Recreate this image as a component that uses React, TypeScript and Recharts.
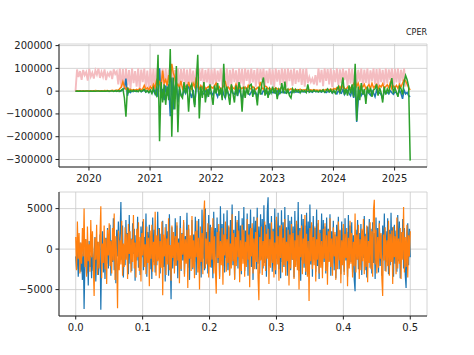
import { LineChart, Line, XAxis, YAxis, CartesianGrid } from "recharts";

// top panel: one sample every 0.025 year starting at T0
const T0 = 2019.78;
const DT = 0.025;
const yearTicks = [2020, 2021, 2022, 2023, 2024, 2025];
const topTicks = [-300000, -200000, -100000, 0, 100000, 200000];

const pink = [
  0, 95000, 62000, 88000, 50000, 93000, 70000, 84000, 46000, 98000,
  64000, 81000, 55000, 91000, 72000, 100000, 58000, 84000, 63000, 95000,
  49000, 79000, 67000, 89000, 53000, 96000, 75000, 86000, 30000, 100000,
  15000, 97000, 8000, 100000, 25000, 92000, 12000, 100000, 35000, 88000,
  20000, 100000, 10000, 95000, 40000, 100000, 18000, 90000, 5000, 100000,
  22000, 98000, 8000, 100000, 30000, 94000, 12000, 100000, 26000, 100000,
  15000, 96000, 35000, 100000, 10000, 92000, 28000, 100000, 18000, 97000,
  40000, 100000, 20000, 95000, 12000, 100000, 33000, 90000, 16000, 100000,
  25000, 98000, 45000, 100000, 20000, 93000, 38000, 100000, 14000, 96000,
  30000, 100000, 22000, 90000, 42000, 100000, 18000, 97000, 35000, 100000,
  12000, 94000, 28000, 100000, 40000, 91000, 20000, 100000, 33000, 98000,
  15000, 100000, 45000, 95000, 25000, 100000, 38000, 92000, 20000, 100000,
  30000, 97000, 48000, 100000, 22000, 90000, 35000, 100000, 28000, 96000,
  18000, 100000, 42000, 93000, 26000, 100000, 36000, 98000, 20000, 100000,
  44000, 95000, 24000, 100000, 32000, 91000, 40000, 100000, 27000, 97000,
  20000, 100000, 35000, 62000, 40000, 55000, 30000, 70000, 25000, 100000,
  38000, 94000, 22000, 100000, 45000, 97000, 30000, 100000, 18000, 92000,
  40000, 100000, 26000, 96000, 35000, 100000, 48000, 90000, 22000, 100000,
  33000, 98000, 15000, 100000, 28000, 94000, 42000, 100000, 20000, 95000,
  36000, 100000, 24000, 91000, 45000, 100000, 30000, 97000, 18000, 100000,
  40000, 93000, 26000, 100000, 34000, 96000, 50000, 100000, 22000, 98000,
  38000, 100000, 28000, 94000, 45000, 100000, 20000, null, null, null,
];

const blueTop = [
  0, 500, -300, 800, -600, 400, 1000, -500, 300, 700,
  -400, 900, 200, -700, 600, 1200, -300, 800, 1500, -200,
  1000, 400, -900, 1300, 2000, -500, 800, 1700, -1200, 3000,
  1000, 6000, 12000, 55000, -20000, 8000, -5000, 3000, -2000, 4000,
  -1500, 2500, 6000, -3000, 1000, 5000, -4000, 2000, -6000, 3000,
  -8000, 4000, -12000, 20000, -25000, 100000, -30000, 10000, -40000, 25000,
  -20000, 30000, -110000, 60000, -80000, 15000, 40000, -50000, 10000, -15000,
  -20000, 5000, -10000, 12000, 20000, -8000, -30000, 6000, -60000, 20000,
  30000, -40000, 5000, -15000, -10000, 8000, -20000, 4000, -12000, -5000,
  -18000, 6000, -8000, -25000, 3000, -10000, 10000, -15000, -30000, 5000,
  -12000, -20000, 4000, -8000, -14000, 2000, -22000, 8000, -10000, -35000,
  -6000, -12000, 3000, -9000, -16000, -4000, 5000, -11000, -7000, -25000,
  2000, -8000, -13000, 4000, -6000, -10000, -3000, -12000, 1000, -7000,
  -5000, -9000, 2000, -14000, -4000, -6000, 3000, -8000, -5000, -2000,
  -10000, -3000, -6000, 1000, -4000, -2000, -5000, 500, -3000, -1500,
  -4000, -2500, 0, -3500, -1000, -5000, 1000, -2000, -3000, -500,
  -1500, -4000, 800, -2500, -6000, -1000, -3000, 1500, -8000, -2000,
  -5000, -12000, 2000, -6000, -9000, 8000, -15000, -4000, 3000, -10000,
  -20000, 5000, -30000, 25000, -135000, -40000, 10000, -20000, -8000, -15000,
  -30000, 5000, -10000, -18000, 2000, -8000, -25000, 4000, -12000, -6000,
  -15000, -35000, 3000, -9000, -5000, -12000, 2000, -7000, -14000, -3000,
  -8000, -16000, 4000, -10000, -34000, 5000, -12000, -6000, -20000, -25000,
];

const orangeTop = [
  0, 800, 1500, 500, 1200, 2000, 700, 1600, 900, 2200,
  1000, 1800, 600, 2500, 1300, 900, 2000, 1500, 800, 2400,
  1400, 3000, 900, 2200, 4000, 1500, 3500, 5000, 2000, 12000,
  18000, 42000, 20000, 8000, 15000, 5000, 9000, 4000, 7000, 3000,
  8000, 5000, 12000, 6000, 10000, 25000, 8000, 15000, 5000, 20000,
  10000, 30000, 15000, 45000, 25000, 40000, 20000, 90000, 35000, 50000,
  25000, 70000, 40000, 120000, 80000, 60000, 20000, 30000, 15000, 45000,
  10000, 25000, 20000, 12000, 40000, 15000, 8000, 35000, 18000, 60000,
  20000, 10000, 25000, 12000, 30000, 8000, 15000, 20000, 10000, 18000,
  12000, 25000, 35000, 10000, 20000, 8000, 15000, 22000, 45000, 12000,
  18000, 8000, 25000, 14000, 10000, 30000, 12000, 20000, 8000, 15000,
  10000, 18000, 6000, 25000, 12000, 9000, 20000, 14000, 7000, 16000,
  12000, 40000, 15000, 8000, 22000, 20000, 10000, 14000, 6000, 12000,
  8000, 15000, 10000, 5000, 12000, 18000, 7000, 10000, 4000, 9000,
  6000, 11000, 5000, 8000, 3000, 7000, 4000, 9000, 3000, 6000,
  4000, 8000, 3000, 5000, 6000, 3000, 7000, 4000, 5000, 3000,
  5000, 2000, 6000, 4000, 8000, 3000, 6000, 10000, 5000, 12000,
  8000, 15000, 6000, 20000, 10000, 25000, 12000, 8000, 18000, 10000,
  15000, 22000, 30000, 45000, 20000, 35000, 12000, 25000, 18000, 30000,
  10000, 20000, 28000, 12000, 35000, 15000, 22000, 30000, 10000, 25000,
  18000, 32000, 12000, 20000, 28000, 15000, 38000, 10000, 22000, 16000,
  25000, 12000, 30000, 18000, 35000, 50000, 45000, 30000, 15000, 5000,
];

const greenTop = [
  0, 300, -500, 600, -200, 400, -800, 300, 700, -400,
  500, -300, 900, -600, 200, 800, -500, 1000, -300, 600,
  -400, 1200, -800, 500, 1500, -1000, 2000, -1500, 3000, -2000,
  5000, 10000, -30000, -112000, 15000, -5000, 3000, -2000, 4000, -1000,
  2000, -3000, 5000, -1500, 3000, 8000, -4000, 2000, -6000, 5000,
  -10000, 15000, -8000, -20000, 160000, -220000, 40000, -50000, 30000, -60000,
  20000, -40000, 185000, -200000, 60000, -80000, 110000, -180000, 20000, -20000,
  -30000, 40000, -10000, 30000, -90000, 15000, 30000, -20000, -70000, 40000,
  160000, -120000, 20000, -30000, 40000, -50000, 10000, -25000, 30000, -15000,
  -60000, 25000, -10000, 35000, -20000, 15000, -40000, 120000, -30000, 20000,
  -15000, -60000, 30000, -10000, -50000, 25000, -20000, 40000, 10000, -90000,
  20000, -30000, 15000, -15000, 25000, 30000, -25000, 10000, -10000, -63000,
  20000, -15000, 35000, 60000, -20000, 15000, -30000, 10000, -8000, 20000,
  -10000, 15000, -35000, 8000, -5000, 35000, -10000, 42000, -12000, 6000,
  -20000, -30000, 10000, -5000, 8000, -3000, 5000, -8000, 4000, -2000,
  3000, -6000, 30000, -4000, 2000, -3000, 5000, -2000, 1000, -4000,
  3000, -2000, 6000, -5000, 2000, 10000, -3000, 6000, -8000, 4000,
  -10000, 8000, 20000, -6000, 15000, 60000, -15000, 10000, -20000, 25000,
  -10000, 30000, -25000, 120000, -130000, 20000, -40000, 35000, -15000, 10000,
  -56000, 20000, -10000, 15000, -25000, 5000, 10000, 30000, -20000, 15000,
  -8000, -50000, 20000, -15000, 10000, -5000, 25000, 57000, -10000, 15000,
  -5000, -25000, 20000, 10000, -15000, 40000, 69000, 50000, 20000, -305000,
];

// bottom panel: frequencies 0 .. 0.5, step 0.00125
const DF = 0.00125;
const freqTicks = [0, 0.1, 0.2, 0.3, 0.4, 0.5];
const bottomTicks = [-5000, 0, 5000];

const blueBottom = [
  -900, -2500, 500, -3400, -1200, 800, -2800, -600, -3800, 400, -7400, -1500, 1200, -3000, -400, -4500, 1000, -2200, -800, -3600,
  300, -2700, -1000, 1500, -4000, -600, 900, -3200, -1400, 1800, -7500, -500, 2200, -2900, 600, -3700, 1400, -1800, 2600, -2400,
  -300, 3000, -3300, 1100, -1600, 3800, -2600, 700, -4200, 2400, -900, 3400, -2100, 1600, 5800, -1300, 2900, -3500, 500, -2000,
  3600, -1100, 2000, -3100, 4200, -1800, 1300, -2700, 3200, -600, 2500, -3900, 1700, -1400, 4000, -2300, 900, -3200, 2800, -1000,
  3400, -2600, 1500, -1200, 4400, -3400, 2100, -800, 3000, -2500, 1200, -3700, 3900, -1600, 2400, -2900, 800, -2000, 4600, -1300,
  2600, -3000, 1900, -1700, 3500, -2200, 1000, -4000, 3100, -1100, 2200, -3300, 4300, -900, -6200, 2700, -2400, 1400, -1500, 3800,
  -2000, 2900, -3600, 1300, -1000, 4100, -2700, 2000, -1400, 3300, -3100, 1600, -700, 4500, -2300, 2500, -3800, 1100, -1200, 3600,
  -2500, 1800, -1600, 4000, -3200, 2300, -900, 3700, -2100, 1400, -3500, 4900, -1200, 2800, -2600, 5000, -1800, 2100, -3000, 4200,
  -1400, 3000, -2300, 1700, -3600, 4600, -1000, 2600, -2800, 3900, -1700, 2200, -3400, 5300, -1300, 3100, -2100, 4400, -2900, 1900,
  -1100, 4800, -2600, 2700, -3200, 3600, -700, 5500, -2000, 2400, -3700, 4100, -1500, 3300, -2400, 4700, -1900, 2900, -3100, 3800,
  -1200, 5200, -2700, 2300, -1600, 4400, -3300, 3100, -900, 4900, -2200, 2600, -3800, 4000, -1400, 3500, -2500, 5100, -1800, 2800,
  -3000, 4300, -1300, 3700, -2400, 5400, -1700, 3000, -3400, 4600, 6400, -2100, 3200, -1500, 4100, -2800, 2500, -1900, 5000, -3100,
  3600, -1200, 4500, -2500, 2900, -3600, 4800, -1600, 3300, -2200, 5200, -1000, 2700, -3300, 4200, -1800, 3500, -2600, 4000, -1300,
  2800, -3500, 4700, -2000, 3100, -1500, 5800, -2700, 2600, -3900, 4300, -1400, 3700, -2300, 2900, -3200, 4500, -1700, 3400, -2500,
  5500, -1900, 3000, -3400, 4100, -1100, 2600, -2800, 4900, -2100, 3200, -3700, 2400, -1300, 4400, -2400, 3600, -1600, 2800, -3000,
  3900, -2200, 2500, -1500, 4300, -3300, 2200, -1800, 3500, -2600, 1800, -3600, 3000, -1200, 4000, -2500, 2300, -3100, 3400, -1700,
  2600, -2800, 3800, -1400, 2100, -3400, 4200, -2000, 2900, -1600, 3300, -2900, 1700, -3800, -5200, 2400, -1300, 3600, -2500, 2000,
  -1800, 3100, -3200, 2300, -1100, 4100, -2600, 1900, -3500, 2800, -1500, 3700, -2300, 2500, -3000, 3300, -1700, 2000, -3700, 3900,
  -1400, 2600, -2900, 3500, -2100, 1800, -3300, 2900, -1200, 4400, -2700, 2200, -1600, 3800, -3100, 2400, -2000, 4500, -1300, 2700,
  -3400, 3000, -1800, 2300, -2800, 4200, -1500, 3400, -3600, 2100, -1100, 3700, -2400, 2600, -3200, -4800, 1900, 3200, -2000, 2500,
  -1000,
];

const orangeBottom = [
  1500, -2600, 3400, -1200, 2000, -3000, 800, -1800, 2600, -900, 5000, -2200, 1200, -3400, 2800, -1500, 600, -2800, 3600, -1000,
  2200, -2000, -5800, 1400, -1300, 3000, -3200, 900, -2400, 1800, 5300, -3600, 700, -1700, 2900, -2500, 1300, -4300, 2400, -800,
  3200, -2100, 1000, -3000, 2600, -1400, 4400, -3800, 1600, -1100, -7300, 2300, -2600, 1100, -1900, 3500, -3300, 700, -2200, 2700,
  -1300, 1900, -3700, 3100, -600, 2200, -2900, 1200, -1600, 4200, -2400, 800, -3500, 2500, -1000, 3300, -2700, 1500, -4000, 2000,
  -800, 3700, -2200, 600, -3100, 2800, -1700, 1400, -4600, 2300, -1200, 3000, -2800, 900, -2000, 4600, -3300, 1700, -1500, 2500,
  -3600, 1000, -2300, 3400, -5700, 1800, -900, 2700, -3200, 1300, -1900, 3800, -2600, 500, -3900, 2900, -1100, 2100, -3000, 1600,
  -2100, 3300, -1400, 800, -4200, 2600, -2500, 1900, -700, 3600, -3400, 1200, -1800, 2400, -4800, 3000, -1200, 1700, -2700, 4100,
  -2300, 1100, -3600, 2200, -1000, 3500, -2900, 1400, -5000, 2800, -1600, 2000, -3100, 4000, 6000, -2400, 1300, -1900, 3200, -3500,
  900, -2200, 2700, -1300, 3800, -3000, 1600, -2600, -5500, 2100, -1100, 3100, -3700, 1000, -2000, 2600, -4400, 1800, -800, 3400,
  -2800, 1200, -1700, 2900, -3300, 700, -2400, 4300, -1500, 2000, -3800, 1500, -2100, 3600, -1000, 2300, -4100, 1100, -2700, 3000,
  -1800, 2400, -3400, 900, -2200, 3700, -1300, 1800, -4700, 2600, -900, 3200, -3000, 1300, -2500, 2100, -1600, 3900, -3600, -6300,
  1500, -1400, 2800, -3200, 1000, -2100, 3400, -2700, 1900, -1200, 2500, -4300, 1200, -2300, 3300, -1700, 2200, -3500, 800, -2600,
  4000, -1900, 1600, -3900, 2700, -1100, 3000, -2900, 1400, -2000, 3700, -3300, 900, -1500, 2400, -4500, 1800, -2400, 3100, -1300,
  2000, -3700, 1100, -2200, 3500, -2600, 1700, -5000, 2300, -1000, 2900, -3100, 1300, -1800, 4200, -2800, 1900, -3400, 1000, -6400,
  2600, -1500, 3300, -2500, 1500, -2000, 2800, -4000, 1200, -1300, 3600, -3000, 2000, -2300, 1000, -3600, 2500, -1200, 3200, -2700,
  1700, -4400, 2200, -1600, 3800, -2200, 1300, -3300, 2700, -900, 2100, -3800, 1600, -2500, 3400, -1400, 2400, -4200, 1100, -2000,
  3100, -3200, 1900, -1100, 2600, -4600, 1400, -2400, 3500, -1800, 2000, -3500, 900, -2100, 4400, -2900, 1800, -1300, 3000, -3700,
  1200, -2600, 2500, -1500, 3700, -3100, 1600, -2200, 2900, -4100, 1000, -1700, 3300, -2500, 2200, -3400, 4800, 6100, -1900, 2400,
  -3000, 1500, -2300, 3200, -1200, 2000, -3600, -5800, 1800, -1400, 2700, -2800, 1100, -2100, 3500, -3300, 1900, -1600, 2300, -4300,
  2800, -1000, 1600, -3100, 3900, -2400, 1300, -1800, 2600, -3700, 2100, -1300, 5200, -2900, 1500, -2200, 3000, -3500, 1700, -900,
  2200,
];

const topData = Array.from({ length: 220 }, (_, i) => ({
  t: T0 + DT * i,
  pink: pink[i],
  blue: blueTop[i],
  orange: orangeTop[i],
  green: greenTop[i],
}));

const bottomData = blueBottom.map((b, i) => ({
  f: DF * i,
  blue: b,
  orange: orangeBottom[i],
}));

const font = { fontFamily: "DejaVu Sans", fontSize: 10, fill: "#222" };
const dark = { stroke: "#222", strokeWidth: 1 };
const minus = (v: number) => (v < 0 ? `\u2212${Math.abs(v)}` : `${v}`);

function TopPanel() {
  const xDom: [number, number] = [2019.51, 2025.53];
  const yDom: [number, number] = [-333000, 207000];
  return (
    <LineChart width={474} height={190} data={topData} margin={{ top: 44, right: 47, bottom: 0, left: 0 }}>
      <CartesianGrid stroke="#c9c9c9" strokeWidth={0.8} />
      <XAxis dataKey="t" type="number" domain={xDom} ticks={yearTicks} interval={0} allowDataOverflow
        height={23} tick={font} tickLine={dark} axisLine={dark} tickSize={3.5} tickMargin={4} />
      <XAxis xAxisId="top" orientation="top" dataKey="t" type="number" domain={xDom} allowDataOverflow
        height={0} tick={false} tickLine={false} axisLine={dark} />
      <YAxis type="number" domain={yDom} ticks={topTicks} interval={0} allowDataOverflow width={59}
        tick={font} tickLine={dark} axisLine={dark} tickSize={3.5} tickMargin={3} tickFormatter={minus} />
      <YAxis yAxisId="right" orientation="right" type="number" domain={yDom} allowDataOverflow
        width={0} tick={false} tickLine={false} axisLine={dark} />
      <Line dataKey="pink" stroke="#f4bcc0" strokeWidth={1.9} dot={false} isAnimationActive={false} />
      <Line dataKey="blue" stroke="#1f77b4" strokeWidth={1.5} dot={false} isAnimationActive={false} />
      <Line dataKey="orange" stroke="#ff7f0e" strokeWidth={1.5} dot={false} isAnimationActive={false} />
      <Line dataKey="green" stroke="#2ca02c" strokeWidth={1.5} dot={false} isAnimationActive={false} />
    </LineChart>
  );
}

function BottomPanel() {
  const xDom: [number, number] = [-0.025, 0.525];
  const yDom: [number, number] = [-8260, 7050];
  return (
    <LineChart width={474} height={160} data={bottomData} margin={{ top: 12, right: 47, bottom: 0, left: 0 }}>
      <CartesianGrid stroke="#c9c9c9" strokeWidth={0.8} />
      <XAxis dataKey="f" type="number" domain={xDom} ticks={freqTicks} interval={0} allowDataOverflow
        height={24} tick={font} tickLine={dark} axisLine={dark} tickSize={3.5} tickMargin={4}
        tickFormatter={(v: number) => v.toFixed(1)} />
      <XAxis xAxisId="top" orientation="top" dataKey="f" type="number" domain={xDom} allowDataOverflow
        height={0} tick={false} tickLine={false} axisLine={dark} />
      <YAxis type="number" domain={yDom} ticks={bottomTicks} interval={0} allowDataOverflow width={59}
        tick={font} tickLine={dark} axisLine={dark} tickSize={3.5} tickMargin={3} tickFormatter={minus} />
      <YAxis yAxisId="right" orientation="right" type="number" domain={yDom} allowDataOverflow
        width={0} tick={false} tickLine={false} axisLine={dark} />
      <Line dataKey="blue" stroke="#1f77b4" strokeWidth={1.2} dot={false} isAnimationActive={false} />
      <Line dataKey="orange" stroke="#ff7f0e" strokeWidth={1.2} dot={false} isAnimationActive={false} />
    </LineChart>
  );
}

export default function App() {
  return (
    <div style={{ position: "absolute", left: 0, top: 0, width: 474, height: 355, background: "#fff" }}>
      <div style={{ position: "absolute", right: 47, top: 28, fontFamily: "DejaVu Sans", fontSize: 8, lineHeight: "10px", color: "#222" }}>
        CPER
      </div>
      <div style={{ position: "absolute", left: 0, top: 0 }}>
        <TopPanel />
      </div>
      <div style={{ position: "absolute", left: 0, top: 180 }}>
        <BottomPanel />
      </div>
    </div>
  );
}
